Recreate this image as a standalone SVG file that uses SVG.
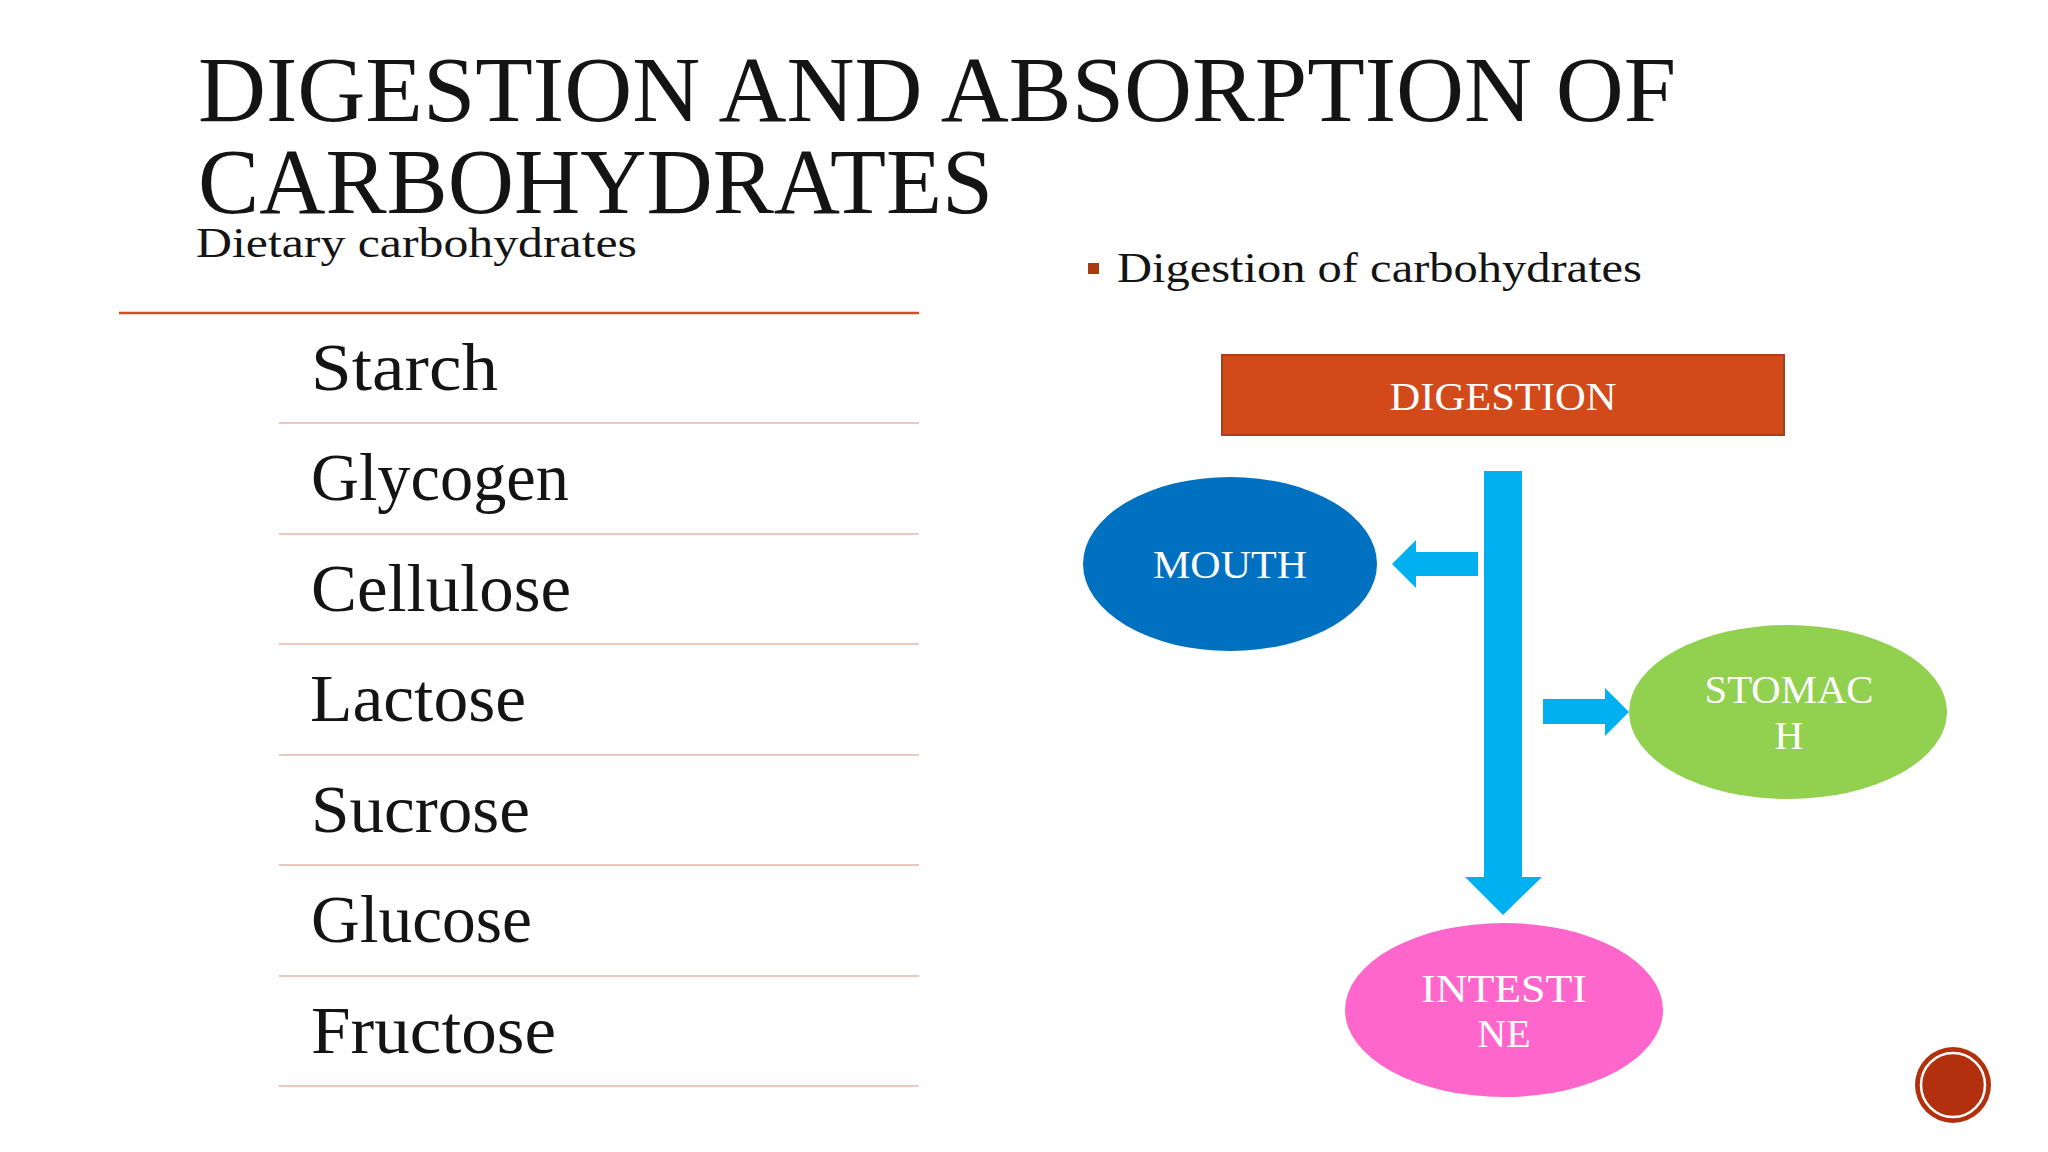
<svg xmlns="http://www.w3.org/2000/svg" width="2048" height="1152" viewBox="0 0 2048 1152">
<style>
text { font-family: "Liberation Serif", "Times New Roman", serif; }
.title { font-size: 94px; fill: #141414; }
.sub { font-size: 42px; fill: #141414; }
.item { font-size: 68px; fill: #141414; }
.lbl { font-size: 40px; fill: #ffffff; text-anchor: middle; }
.row { stroke: #EDC8BE; stroke-width: 2; }
.arrow { fill: #00B0F0; }
</style>
<rect width="2048" height="1152" fill="#ffffff"/>

<g id="title">
<text class="title" x="198" y="121" textLength="1478" lengthAdjust="spacingAndGlyphs">DIGESTION AND ABSORPTION OF</text>
<text class="title" x="198" y="213" textLength="795" lengthAdjust="spacingAndGlyphs">CARBOHYDRATES</text>
</g>

<g id="dietary-list">
<text class="sub" x="196" y="257" textLength="441" lengthAdjust="spacingAndGlyphs">Dietary carbohydrates</text>
<line x1="119" y1="313" x2="919" y2="313" stroke="#D0502A" stroke-width="2.5"/>
<line class="row" x1="279" y1="423" x2="919" y2="423"/>
<line class="row" x1="279" y1="534" x2="919" y2="534"/>
<line class="row" x1="279" y1="644" x2="919" y2="644"/>
<line class="row" x1="279" y1="755" x2="919" y2="755"/>
<line class="row" x1="279" y1="865" x2="919" y2="865"/>
<line class="row" x1="279" y1="976" x2="919" y2="976"/>
<line class="row" x1="279" y1="1086" x2="919" y2="1086"/>
<text class="item" x="311" y="390" textLength="187" lengthAdjust="spacingAndGlyphs">Starch</text>
<text class="item" x="311" y="500" textLength="258" lengthAdjust="spacingAndGlyphs">Glycogen</text>
<text class="item" x="311" y="611" textLength="260" lengthAdjust="spacingAndGlyphs">Cellulose</text>
<text class="item" x="310" y="721" textLength="216" lengthAdjust="spacingAndGlyphs">Lactose</text>
<text class="item" x="311" y="832" textLength="219" lengthAdjust="spacingAndGlyphs">Sucrose</text>
<text class="item" x="311" y="942" textLength="221" lengthAdjust="spacingAndGlyphs">Glucose</text>
<text class="item" x="311" y="1053" textLength="245" lengthAdjust="spacingAndGlyphs">Fructose</text>
</g>

<g id="bullet">
<rect x="1088" y="263" width="11" height="11" fill="#A83C12"/>
<text class="sub" x="1117" y="282" textLength="525" lengthAdjust="spacingAndGlyphs">Digestion of carbohydrates</text>
</g>

<g id="connectors">
<polygon class="arrow" points="1484,471 1522,471 1522,877 1542,877 1503,915 1465,877 1484,877"/>
<polygon class="arrow" points="1478,552 1416,552 1416,540 1392,564 1416,588 1416,576 1478,576"/>
<polygon class="arrow" points="1543,699 1605,699 1605,688 1629,712 1605,736 1605,724 1543,724"/>
</g>

<g id="digestion">
<rect x="1222" y="355" width="562" height="80" fill="#D24A1A" stroke="#A8401A" stroke-width="2"/>
<text class="lbl" x="1503" y="410" textLength="227" lengthAdjust="spacingAndGlyphs">DIGESTION</text>
</g>

<g id="mouth">
<ellipse cx="1230" cy="564" rx="147" ry="87" fill="#0070C0"/>
<text class="lbl" x="1230" y="578" textLength="154" lengthAdjust="spacingAndGlyphs">MOUTH</text>
</g>

<g id="stomach">
<ellipse cx="1788" cy="712" rx="159" ry="87" fill="#92D050"/>
<text class="lbl" x="1789" y="703" textLength="169" lengthAdjust="spacingAndGlyphs">STOMAC</text>
<text class="lbl" x="1789" y="749">H</text>
</g>

<g id="intestine">
<ellipse cx="1504" cy="1010" rx="159" ry="87" fill="#FF66CC"/>
<text class="lbl" x="1504" y="1002" textLength="166" lengthAdjust="spacingAndGlyphs">INTESTI</text>
<text class="lbl" x="1504" y="1047">NE</text>
</g>

<g id="badge">
<circle cx="1953" cy="1085" r="38" fill="#B3300E"/>
<circle cx="1953" cy="1085" r="32" fill="none" stroke="#ffffff" stroke-width="2.5"/>
</g>
</svg>
